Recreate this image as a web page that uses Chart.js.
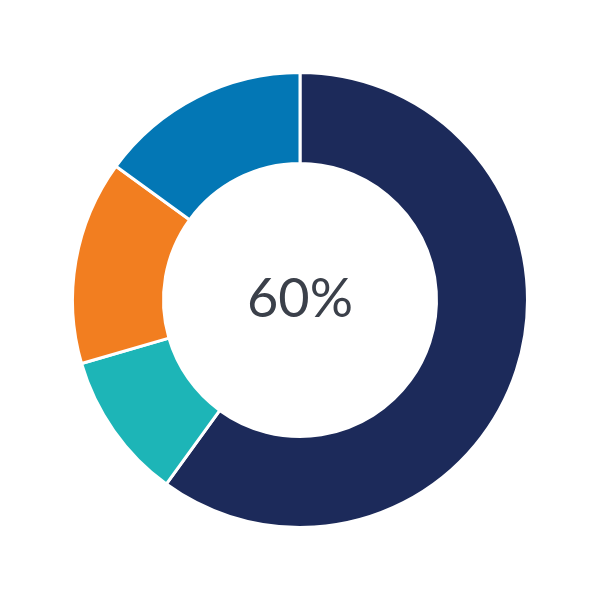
<!DOCTYPE html>
<html>
<head>
<meta charset="utf-8">
<script src="https://cdn.jsdelivr.net/npm/chart.js@4"></script>
<style>
  html, body { margin: 0; padding: 0; background: #fff; }
  #wrap { width: 600px; height: 600px; }
</style>
</head>
<body>
<div id="wrap"><canvas id="donut"></canvas></div>
<script>
// ── DATA ───────────────────────────────────────────────────────────────────────
const labels = ['Navy', 'Teal', 'Orange', 'Blue'];
const values = [60, 10.5, 14.5, 15];
const colors = ['#1C2A5A', '#1DB5B7', '#F27E20', '#0377B5'];
const centerLabel = values[0] + '%';

// center text plugin
const centerText = {
  id: 'centerText',
  afterDraw(chart) {
    const { ctx, chartArea } = chart;
    const cx = (chartArea.left + chartArea.right) / 2;
    const cy = (chartArea.top + chartArea.bottom) / 2;
    ctx.save();
    ctx.font = '400 54px Lato, "Open Sans", sans-serif';
    ctx.fillStyle = '#3B404A';
    ctx.textAlign = 'center';
    ctx.textBaseline = 'middle';
    ctx.fillText(centerLabel, cx, cy);
    ctx.restore();
  }
};

new Chart(document.getElementById('donut').getContext('2d'), {
  type: 'doughnut',
  data: {
    labels: labels,
    datasets: [{
      data: values,
      backgroundColor: colors,
      borderColor: '#ffffff',
      borderWidth: 3
    }]
  },
  options: {
    responsive: true,
    maintainAspectRatio: false,
    animation: false,
    cutout: '60%',
    layout: { padding: 71 },
    plugins: {
      legend: { display: false },
      tooltip: { enabled: false }
    }
  },
  plugins: [centerText]
});
</script>
</body>
</html>
